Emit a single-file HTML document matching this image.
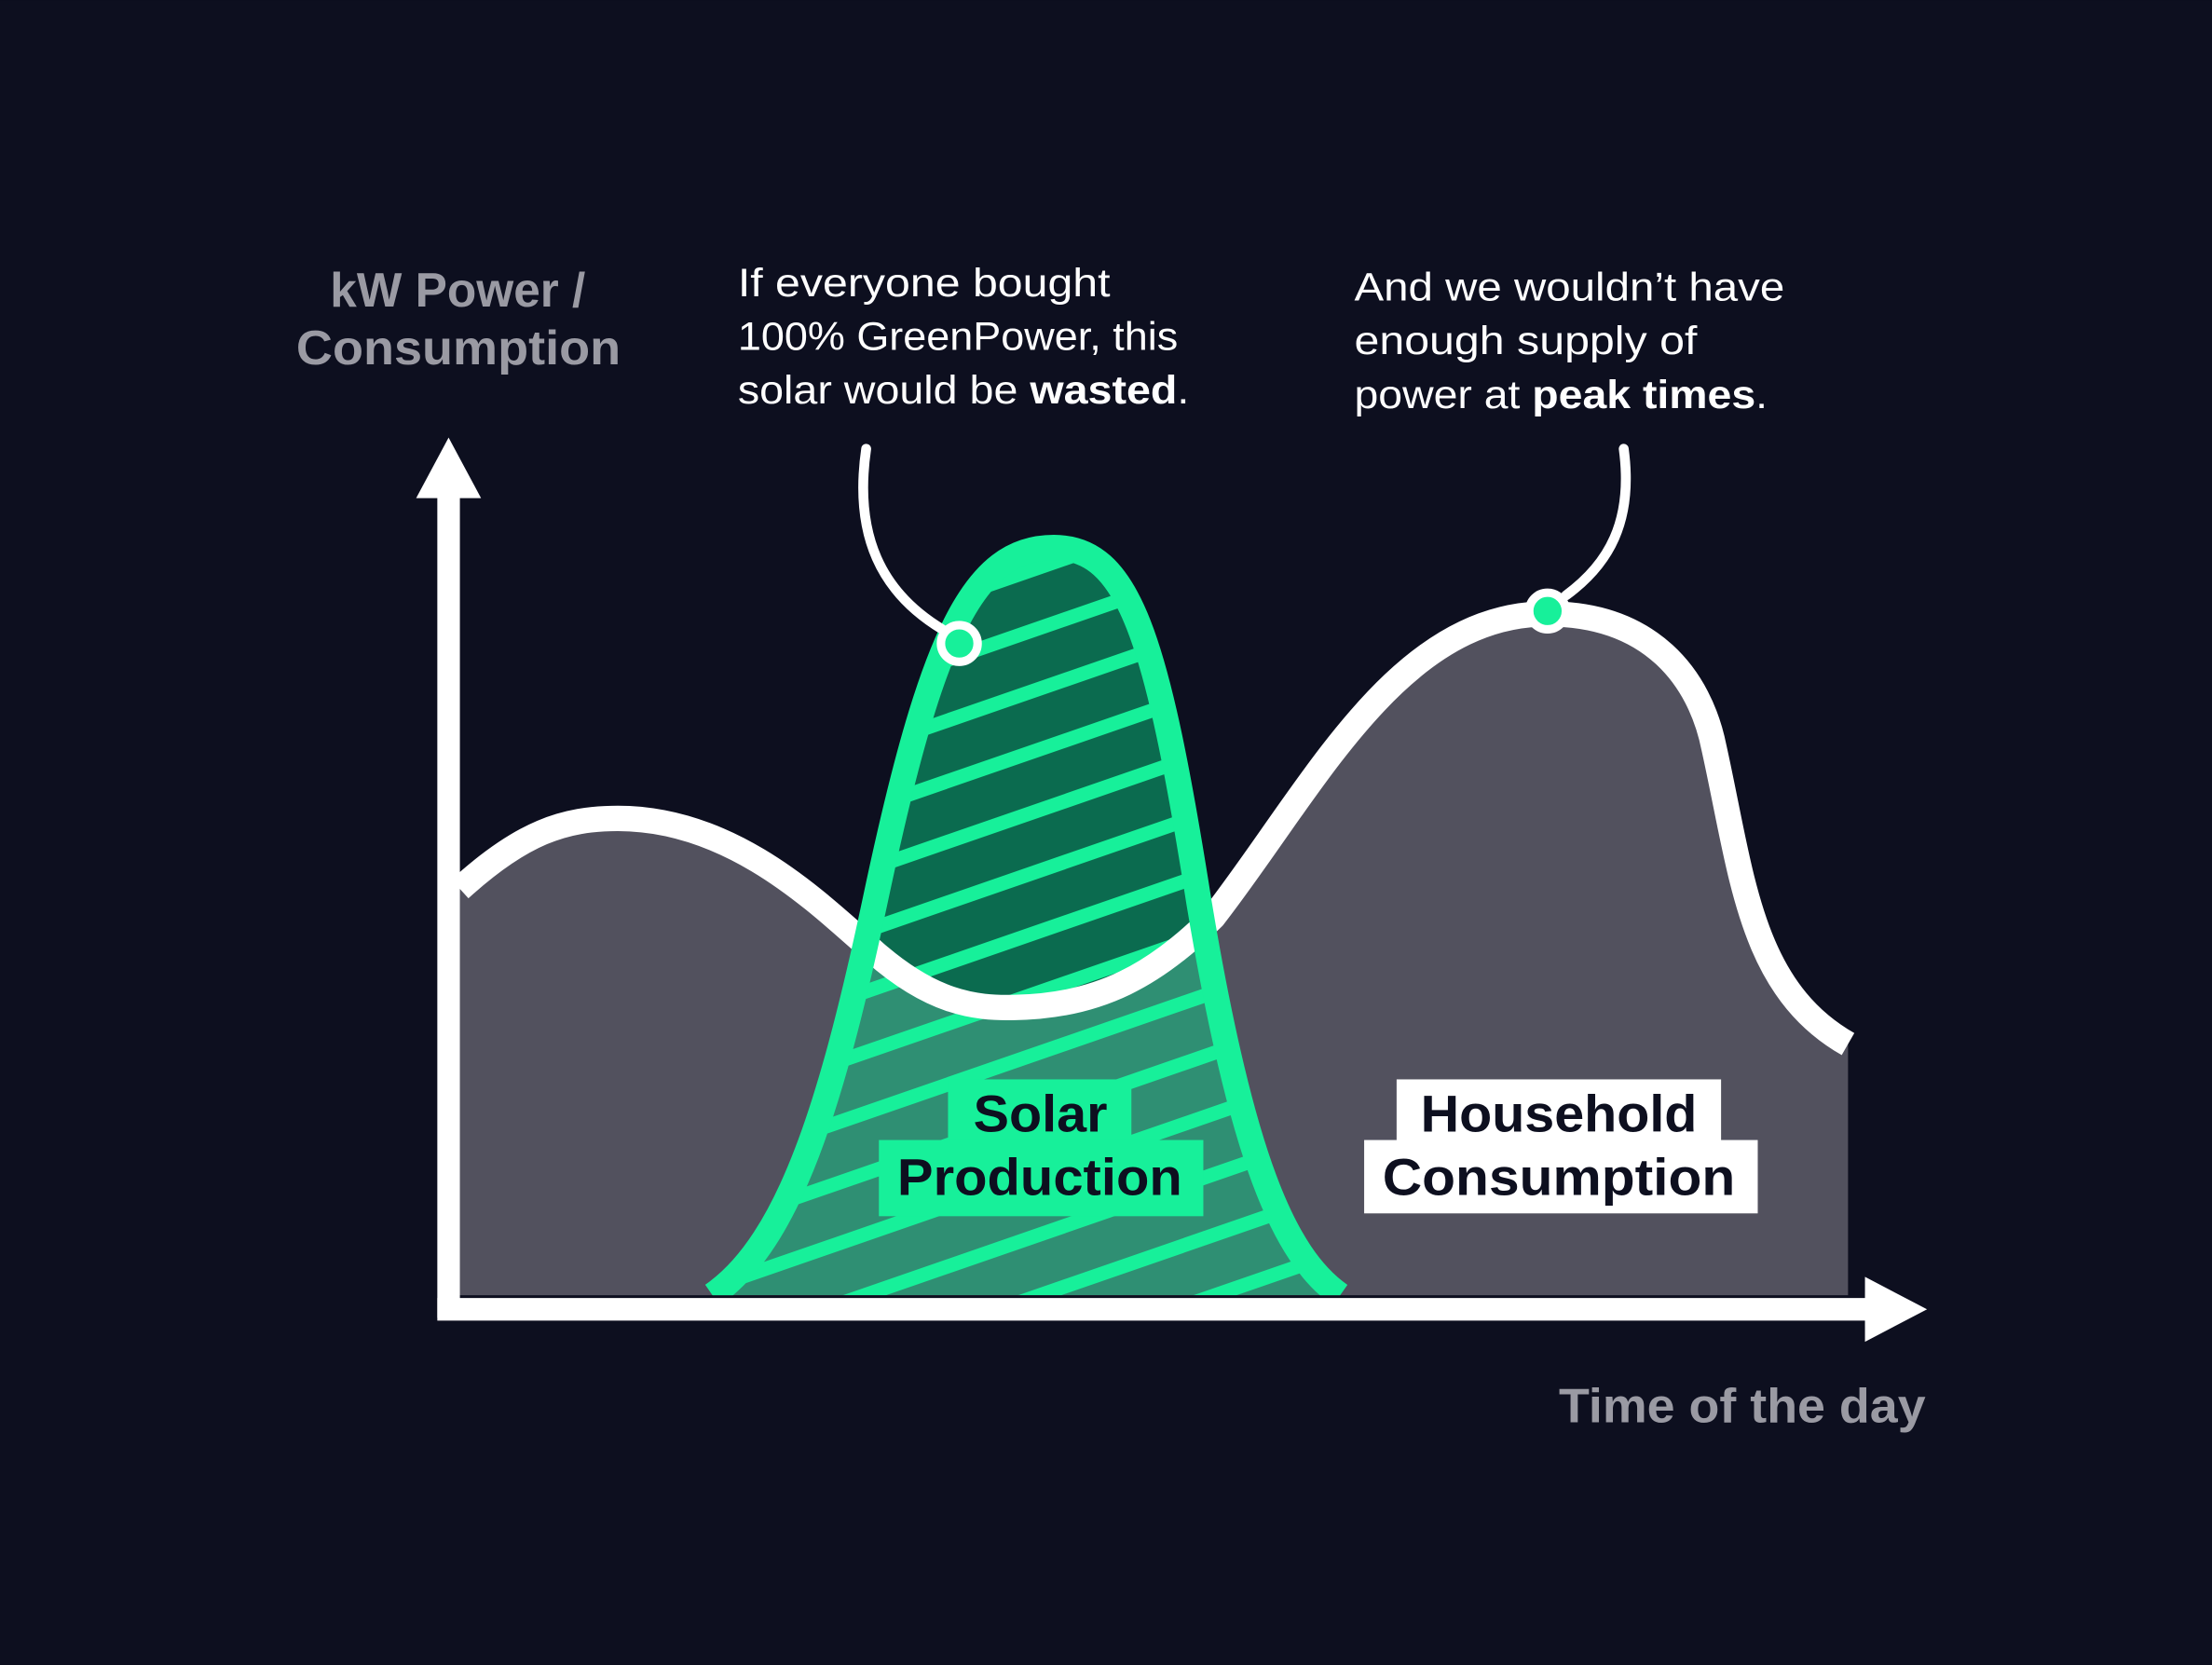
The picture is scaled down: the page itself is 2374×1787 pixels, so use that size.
<!DOCTYPE html>
<html><head><meta charset="utf-8"><style>
html,body{margin:0;padding:0;background:#0d0f1f;}
svg{display:block;}
text{font-family:"Liberation Sans",sans-serif;}
</style></head><body>
<svg width="2374" height="1787" viewBox="0 0 1568 1180" xmlns="http://www.w3.org/2000/svg">
<defs>
<clipPath id="solar"><path d="M505,918 C560,880 590,780 620,640 C660,450 690,388 747,388 C800,388 820,450 850,640 C880,820 910,890 950,918 Z"/></clipPath>
<clipPath id="above"><path d="M300,0 L300,630 L326,630 C370,590 400,580 438,580 C520,580 580,640 620,675 C660,710 690,715 720,714 C780,713 820,690 860,650 C930,560 990,435 1097,435 C1170,435 1205,480 1215,530 C1235,620 1240,700 1310,740 L1400,740 L1400,0 Z"/></clipPath>
<clipPath id="bot"><rect x="0" y="0" width="1568" height="918"/></clipPath>
</defs>
<rect width="1568" height="1180" fill="#0d0f1f"/>
<path d="M326,630 C370,590 400,580 438,580 C520,580 580,640 620,675 C660,710 690,715 720,714 C780,713 820,690 860,650 C930,560 990,435 1097,435 C1170,435 1205,480 1215,530 C1235,620 1240,700 1310,740 L1310,918 L326,918 Z" fill="#52515e"/>
<g clip-path="url(#solar)">
<rect x="480" y="370" width="500" height="560" fill="#2f8f73"/>
<rect x="480" y="370" width="500" height="560" fill="#0b6b4f" clip-path="url(#above)"/>
<g stroke="#17f09a" stroke-width="10">
<line x1="480" y1="491" x2="1000" y2="311"/>
<line x1="480" y1="534" x2="1000" y2="354"/>
<line x1="480" y1="577" x2="1000" y2="397"/>
<line x1="480" y1="620" x2="1000" y2="440"/>
<line x1="480" y1="663" x2="1000" y2="483"/>
<line x1="480" y1="706" x2="1000" y2="526"/>
<line x1="480" y1="749" x2="1000" y2="569"/>
<line x1="480" y1="792" x2="1000" y2="612"/>
<line x1="480" y1="835" x2="1000" y2="655"/>
<line x1="480" y1="878" x2="1000" y2="698"/>
<line x1="480" y1="921" x2="1000" y2="741"/>
<line x1="480" y1="964" x2="1000" y2="784"/>
<line x1="480" y1="1007" x2="1000" y2="827"/>
<line x1="480" y1="1050" x2="1000" y2="870"/>
<line x1="480" y1="1093" x2="1000" y2="913"/>
</g>
</g>
<path d="M326,630 C370,590 400,580 438,580 C520,580 580,640 620,675 C660,710 690,715 720,714 C780,713 820,690 860,650 C930,560 990,435 1097,435 C1170,435 1205,480 1215,530 C1235,620 1240,700 1310,740" fill="none" stroke="#fff" stroke-width="18"/>
<path clip-path="url(#bot)" d="M505,918 C560,880 590,780 620,640 C660,450 690,388 747,388 C800,388 820,450 850,640 C880,820 910,890 950,918" fill="none" stroke="#17f09a" stroke-width="18"/>
<line x1="318" y1="340" x2="318" y2="934" stroke="#fff" stroke-width="16"/>
<polygon points="318,310 295,353 341,353" fill="#fff"/>
<line x1="310" y1="928" x2="1330" y2="928" stroke="#fff" stroke-width="16"/>
<polygon points="1366,928 1322,905 1322,951" fill="#fff"/>
<path d="M614,318 C605,380 625,420 668,446" fill="none" stroke="#fff" stroke-width="7" stroke-linecap="round"/>
<path d="M1151,318 C1158,370 1140,400 1110,422" fill="none" stroke="#fff" stroke-width="7" stroke-linecap="round"/>
<circle cx="680" cy="456" r="13" fill="#17f09a" stroke="#fff" stroke-width="6"/>
<circle cx="1097" cy="433" r="13" fill="#17f09a" stroke="#fff" stroke-width="6"/>
<rect x="672" y="765" width="130" height="47" fill="#17f09a"/>
<rect x="623" y="808" width="230" height="54" fill="#17f09a"/>
<text x="690" y="802" font-size="37" font-weight="bold" fill="#0d0f1f" textLength="95" lengthAdjust="spacingAndGlyphs">Solar</text>
<text x="636" y="847" font-size="37" font-weight="bold" fill="#0d0f1f" textLength="202" lengthAdjust="spacingAndGlyphs">Production</text>
<rect x="990" y="765" width="230" height="47" fill="#fff"/>
<rect x="967" y="808" width="279" height="52" fill="#fff"/>
<text x="1007" y="802" font-size="37" font-weight="bold" fill="#0d0f1f" textLength="196" lengthAdjust="spacingAndGlyphs">Household</text>
<text x="980" y="847" font-size="37" font-weight="bold" fill="#0d0f1f" textLength="250" lengthAdjust="spacingAndGlyphs">Consumption</text>
<text x="234" y="217" font-size="34" font-weight="bold" fill="#9a9aa3" textLength="181" lengthAdjust="spacingAndGlyphs">kW Power /</text>
<text x="210" y="258" font-size="34" font-weight="bold" fill="#9a9aa3" textLength="230" lengthAdjust="spacingAndGlyphs">Consumption</text>
<text x="1105" y="1008" font-size="34" font-weight="bold" fill="#9a9aa3" textLength="260" lengthAdjust="spacingAndGlyphs">Time of the day</text>
<g font-size="28" fill="#fff">
<text x="523" y="210" textLength="264" lengthAdjust="spacingAndGlyphs">If everyone bought</text>
<text x="523" y="248" textLength="312" lengthAdjust="spacingAndGlyphs">100% GreenPower, this</text>
<text x="523" y="286" textLength="320" lengthAdjust="spacingAndGlyphs">solar would be <tspan font-weight="bold">wasted</tspan>.</text>
<text x="960" y="213" textLength="305" lengthAdjust="spacingAndGlyphs">And we wouldn’t have</text>
<text x="960" y="251" textLength="243" lengthAdjust="spacingAndGlyphs">enough supply of</text>
<text x="960" y="289" textLength="293" lengthAdjust="spacingAndGlyphs">power at <tspan font-weight="bold">peak times</tspan>.</text>
</g>
</svg>
</body></html>
